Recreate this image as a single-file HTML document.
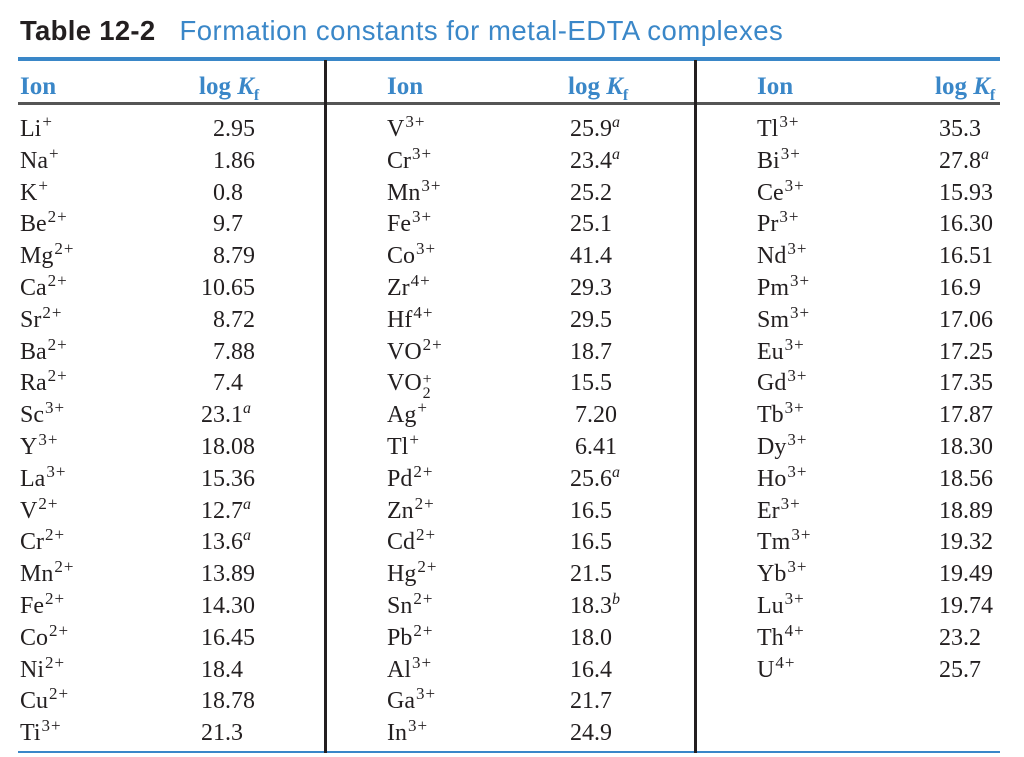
<!DOCTYPE html>
<html><head><meta charset="utf-8"><style>
body{margin:0;width:1024px;height:757px;background:#fff;position:relative;overflow:hidden;font-family:"Liberation Serif",serif;color:#231f20}
.t{position:absolute;left:20px;top:15px;font-family:"Liberation Sans",sans-serif;font-size:27.5px;white-space:nowrap;letter-spacing:0.3px}
.t b{color:#231f20}.t span{color:#3a87c8;margin-left:24px;letter-spacing:0.5px}
.hl{position:absolute;left:18px;width:982px}
.vl{position:absolute;top:60px;height:693px;width:3px;background:#231f20}
.h{position:absolute;top:73px;font-size:25px;font-weight:bold;color:#3a87c8}
.h i sub{font-style:normal;font-size:16px}
.c{position:absolute;top:114px;font-size:24px;line-height:31.8px;white-space:nowrap}
.c div{height:31.8px}
sup{font-size:17px;vertical-align:9px;line-height:0;letter-spacing:1px;margin-left:1px}
.n i.a{font-size:16px;vertical-align:9px;line-height:0}
.n span{display:inline-block;width:40px;text-align:right}
</style></head><body>
<div class="t"><b>Table 12-2</b><span>Formation constants for metal-EDTA complexes</span></div>
<div class="hl" style="top:57px;height:4px;background:#3a87c8"></div>
<div class="hl" style="top:102px;height:3px;background:#555"></div>
<div class="hl" style="top:751px;height:2px;background:#3a87c8"></div>
<div class="vl" style="left:324px"></div>
<div class="vl" style="left:694px"></div>
<div class="h" style="left:20px">Ion</div><div class="h" style="left:199px">log <i>K<sub>f</sub></i></div>
<div class="h" style="left:387px">Ion</div><div class="h" style="left:568px">log <i>K<sub>f</sub></i></div>
<div class="h" style="left:757px">Ion</div><div class="h" style="left:935px">log <i>K<sub>f</sub></i></div>

<div class="c" style="left:20px">
<div>Li<sup>+</sup></div><div>Na<sup>+</sup></div><div>K<sup>+</sup></div><div>Be<sup>2+</sup></div><div>Mg<sup>2+</sup></div><div>Ca<sup>2+</sup></div><div>Sr<sup>2+</sup></div><div>Ba<sup>2+</sup></div><div>Ra<sup>2+</sup></div><div>Sc<sup>3+</sup></div><div>Y<sup>3+</sup></div><div>La<sup>3+</sup></div><div>V<sup>2+</sup></div><div>Cr<sup>2+</sup></div><div>Mn<sup>2+</sup></div><div>Fe<sup>2+</sup></div><div>Co<sup>2+</sup></div><div>Ni<sup>2+</sup></div><div>Cu<sup>2+</sup></div><div>Ti<sup>3+</sup></div>
</div>
<div class="c n" style="left:185px">
<div><span>2</span>.95</div><div><span>1</span>.86</div><div><span>0</span>.8</div><div><span>9</span>.7</div><div><span>8</span>.79</div><div><span>10</span>.65</div><div><span>8</span>.72</div><div><span>7</span>.88</div><div><span>7</span>.4</div><div><span>23</span>.1<i class="a">a</i></div><div><span>18</span>.08</div><div><span>15</span>.36</div><div><span>12</span>.7<i class="a">a</i></div><div><span>13</span>.6<i class="a">a</i></div><div><span>13</span>.89</div><div><span>14</span>.30</div><div><span>16</span>.45</div><div><span>18</span>.4</div><div><span>18</span>.78</div><div><span>21</span>.3</div>
</div>
<div class="c" style="left:387px">
<div>V<sup>3+</sup></div><div>Cr<sup>3+</sup></div><div>Mn<sup>3+</sup></div><div>Fe<sup>3+</sup></div><div>Co<sup>3+</sup></div><div>Zr<sup>4+</sup></div><div>Hf<sup>4+</sup></div><div>VO<sup>2+</sup></div><div>VO<span style="display:inline-block;position:relative;width:12px;height:10px"><span style="position:absolute;font-size:16px;top:-16px;left:1px">+</span><span style="position:absolute;font-size:16px;top:-2px;left:1px">2</span></span></div><div>Ag<sup>+</sup></div><div>Tl<sup>+</sup></div><div>Pd<sup>2+</sup></div><div>Zn<sup>2+</sup></div><div>Cd<sup>2+</sup></div><div>Hg<sup>2+</sup></div><div>Sn<sup>2+</sup></div><div>Pb<sup>2+</sup></div><div>Al<sup>3+</sup></div><div>Ga<sup>3+</sup></div><div>In<sup>3+</sup></div>
</div>
<div class="c n" style="left:554px">
<div><span>25</span>.9<i class="a">a</i></div><div><span>23</span>.4<i class="a">a</i></div><div><span>25</span>.2</div><div><span>25</span>.1</div><div><span>41</span>.4</div><div><span>29</span>.3</div><div><span>29</span>.5</div><div><span>18</span>.7</div><div><span>15</span>.5</div><div><span style="width:21px"></span>7.20</div><div><span style="width:21px"></span>6.41</div><div><span>25</span>.6<i class="a">a</i></div><div><span>16</span>.5</div><div><span>16</span>.5</div><div><span>21</span>.5</div><div><span>18</span>.3<i class="a">b</i></div><div><span>18</span>.0</div><div><span>16</span>.4</div><div><span>21</span>.7</div><div><span>24</span>.9</div>
</div>
<div class="c" style="left:757px">
<div>Tl<sup>3+</sup></div><div>Bi<sup>3+</sup></div><div>Ce<sup>3+</sup></div><div>Pr<sup>3+</sup></div><div>Nd<sup>3+</sup></div><div>Pm<sup>3+</sup></div><div>Sm<sup>3+</sup></div><div>Eu<sup>3+</sup></div><div>Gd<sup>3+</sup></div><div>Tb<sup>3+</sup></div><div>Dy<sup>3+</sup></div><div>Ho<sup>3+</sup></div><div>Er<sup>3+</sup></div><div>Tm<sup>3+</sup></div><div>Yb<sup>3+</sup></div><div>Lu<sup>3+</sup></div><div>Th<sup>4+</sup></div><div>U<sup>4+</sup></div>
</div>
<div class="c n" style="left:923px">
<div><span>35</span>.3</div><div><span>27</span>.8<i class="a">a</i></div><div><span>15</span>.93</div><div><span>16</span>.30</div><div><span>16</span>.51</div><div><span>16</span>.9</div><div><span>17</span>.06</div><div><span>17</span>.25</div><div><span>17</span>.35</div><div><span>17</span>.87</div><div><span>18</span>.30</div><div><span>18</span>.56</div><div><span>18</span>.89</div><div><span>19</span>.32</div><div><span>19</span>.49</div><div><span>19</span>.74</div><div><span>23</span>.2</div><div><span>25</span>.7</div>
</div>
</body></html>
